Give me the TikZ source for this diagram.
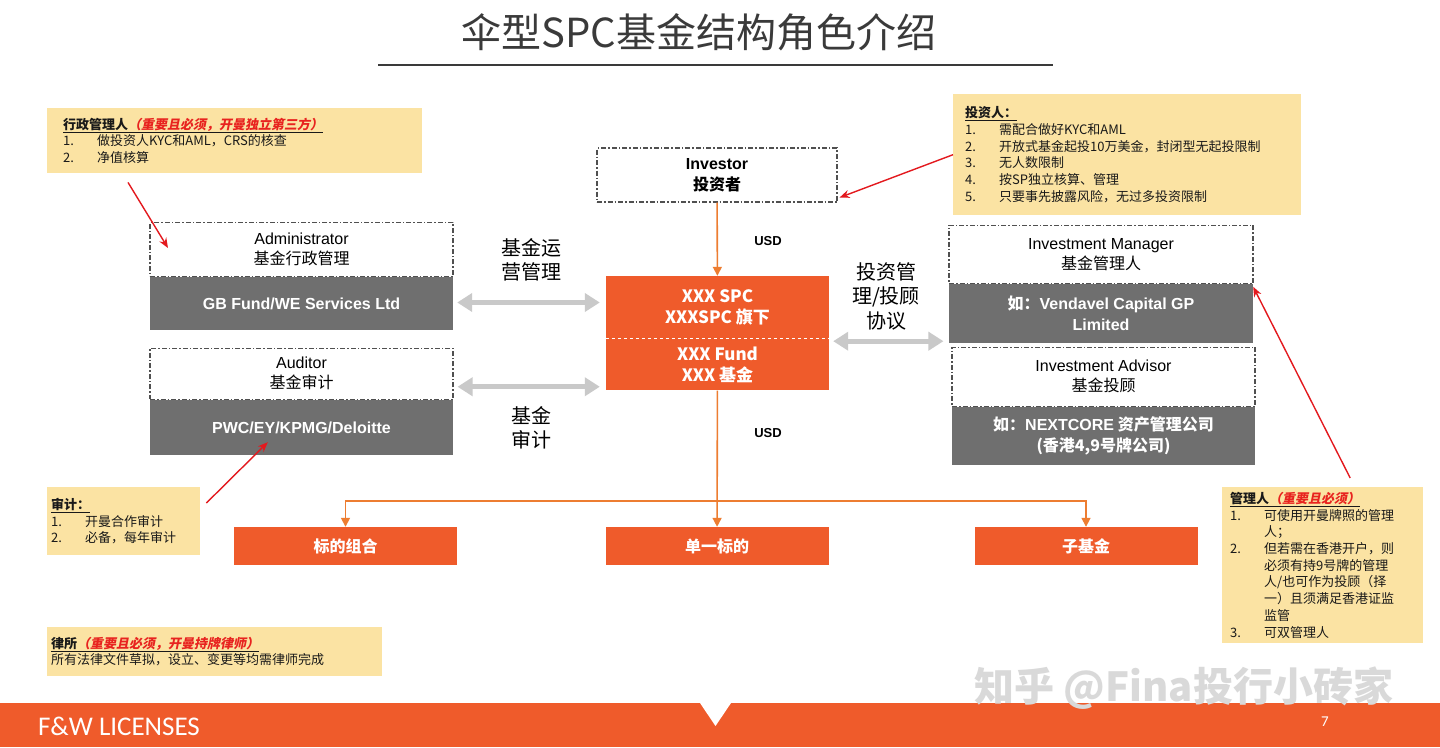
\documentclass[tikz,border=0pt]{standalone}
\usepackage{fontspec}
\setmainfont{Noto Sans CJK SC}
\newfontfamily\cjkit{Noto Sans CJK SC}[FakeSlant=0.2]
\newfontfamily\arial{Liberation Sans}
\newfontfamily\carlito{Carlito}
\usetikzlibrary{arrows.meta,calc,positioning}

\definecolor{noteyellow}{HTML}{FBE3A3}
\definecolor{notered}{HTML}{E8231F}
\definecolor{firmgray}{HTML}{6F6F6F}
\definecolor{dashgray}{HTML}{505050}
\definecolor{spcorange}{HTML}{EF5B2B}
\definecolor{flowor}{HTML}{ED7D31}
\definecolor{linkgray}{HTML}{C9C9C9}
\definecolor{calloutred}{HTML}{E3191E}
\definecolor{titlegray}{HTML}{3A3A3A}

\newcommand{\itm}[2]{\makebox[34pt][l]{#1}#2}

\begin{document}
\begin{tikzpicture}[x=1pt,y=-1pt,
    note/.style={fill=noteyellow, anchor=north west, align=left, text=black!90,
      font=\fontsize{13}{16.7}\selectfont},
    rolebox/.style={draw=dashgray, line width=1.1pt,
      dash pattern=on 5pt off 2pt on 1.5pt off 2pt,
      minimum width=303pt, align=center, font=\fontsize{16}{20}\selectfont},
    firmbox/.style={fill=firmgray, text=white, minimum width=303pt, align=center,
      font=\bfseries\fontsize{16}{21}\selectfont},
    fundbox/.style={fill=spcorange, text=white, minimum width=223pt, align=center,
      font=\bfseries\fontsize{17}{21}\selectfont},
    pickbox/.style={fill=spcorange, text=white, minimum width=223pt, minimum height=38pt,
      font=\bfseries\fontsize{16}{20}\selectfont},
    linklabel/.style={align=center, font=\fontsize{20}{24.5}\selectfont},
    usd/.style={font=\arial\bfseries\fontsize{13}{15}\selectfont},
    flow/.style={draw=flowor, line width=1.6pt, -{Triangle[length=9pt,width=9pt]}},
    link/.style={draw=linkgray, line width=5pt,
      {Triangle[length=15pt,width=18pt]}-{Triangle[length=15pt,width=18pt]}},
    callout/.style={draw=calloutred, line width=1.4pt, -{Stealth[length=10pt,width=8pt]}}]

  \fill[white] (0,0) rectangle (1440,747);
  \useasboundingbox (0,0) rectangle (1440,747);

  % Заголовок
  \node[font=\fontsize{40}{48}\selectfont, text=titlegray] (title) at (699,32) {伞型SPC基金结构角色介绍};
  \draw[titlegray, line width=1.5pt] (378,65) -- (1053,65);

  % ліва колонка
  \node[firmbox, minimum height=53pt] (adminfirm) at (301.5,303.5) {\arial GB Fund/WE Services Ltd};
  \node[rolebox, minimum height=54pt, above=0pt of adminfirm] (admin) {{\arial Administrator}\\基金行政管理};
  \node[firmbox, minimum height=55pt] (auditfirm) at (301.5,427.5) {\arial PWC/EY/KPMG/Deloitte};
  \node[rolebox, minimum height=51pt, above=0pt of auditfirm] (auditor) {{\arial Auditor}\\基金审计};

  % центр
  \node[rolebox, minimum width=240pt, minimum height=54pt, font=\bfseries\fontsize{16}{21}\selectfont]
    (investor) at (717,175) {{\arial Investor}\\投资者};
  \node[fundbox, minimum height=62pt] (spc) at (717.5,307) {XXX SPC\\XXXSPC 旗下};
  \node[fundbox, minimum height=52pt, below=0pt of spc] (fund) {XXX Fund\\XXX 基金};
  \draw[white, dashed, line width=1.2pt] (spc.south west) -- (spc.south east);

  % права колонка
  \node[firmbox, minimum width=304pt, minimum height=59pt] (imfirm) at (1101,313.5)
    {如：{\arial Vendavel Capital GP}\\{\arial Limited}};
  \node[rolebox, minimum width=304pt, minimum height=58pt, above=0pt of imfirm] (manager)
    {{\arial Investment Manager}\\基金管理人};
  \node[firmbox, minimum height=58pt] (iafirm) at (1103.5,436)
    {如：{\arial NEXTCORE} 资产管理公司\\(香港4,9号牌公司)};
  \node[rolebox, minimum height=59pt, above=0pt of iafirm] (advisor)
    {{\arial Investment Advisor}\\基金投顾};

  % низ
  \node[pickbox] (basket) at (345.5,546) {标的组合};
  \node[pickbox] (single) at (717,546) {单一标的};
  \node[pickbox] (subfund) at (1086,546) {子基金};

  \node[usd] (usd1) at (768,241) {USD};
  \node[usd] (usd2) at (768,433) {USD};

  \draw[flow] (investor) -- (spc);
  \draw[flow] (fund) -- (single);
  \coordinate (split) at (717,501);
  \draw[flow] (split) -| (basket);
  \draw[flow] (split) -| (subfund);

  % двосторонні стрілки
  \draw[link] ($(adminfirm.east)+(4,-1)$) -- ($(adminfirm.east -| spc.west)+(-6,-1)$);
  \draw[link] ($(auditor.east)+(4,13)$) -- ($(auditor.east -| fund.west)+(-6,13)$);
  \draw[link] ($(fund.north east)+(4,3)$) -- ($(fund.north east -| manager.west)+(-5,3)$);
  \node[linklabel] (opslabel) at (531,260) {基金运\\营管理};
  \node[linklabel] (auditlabel) at (531,428) {基金\\审计};
  \node[linklabel] (mgmtlabel) at (886,296) {投资管\\理/投顾\\协议};

  % примітки
  \node[note, inner xsep=16pt, text width=343pt, minimum height=65pt] (admnote) at (47,108)
    {\underline{\textbf{行政管理人}\textcolor{notered}{\cjkit\bfseries （重要且必须，开曼独立第三方）}}\\
     \itm{1.}{做投资人KYC和AML，CRS的核查}\\
     \itm{2.}{净值核算}};
  \node[note, inner xsep=12pt, text width=324pt, minimum height=121pt] (invnote) at (953,94)
    {\underline{\textbf{投资人：}}\\
     \itm{1.}{需配合做好KYC和AML}\\
     \itm{2.}{开放式基金起投10万美金，封闭型无起投限制}\\
     \itm{3.}{无人数限制}\\
     \itm{4.}{按SP独立核算、管理}\\
     \itm{5.}{只要事先披露风险，无过多投资限制}};
  \node[note, inner xsep=4pt, text width=145pt, minimum height=68pt] (audnote) at (47,487)
    {\underline{\textbf{审计：}}\\
     \itm{1.}{开曼合作审计}\\
     \itm{2.}{必备，每年审计}};
  \node[note, inner xsep=8pt, text width=185pt, minimum height=156pt] (mgrnote) at (1222,487)
    {\underline{\textbf{管理人}\textcolor{notered}{\cjkit\bfseries （重要且必须）}}\\
     \itm{1.}{可使用开曼牌照的管理}\\
     \itm{}{人；}\\
     \itm{2.}{但若需在香港开户，则}\\
     \itm{}{必须有持9号牌的管理}\\
     \itm{}{人/也可作为投顾（择}\\
     \itm{}{一）且须满足香港证监}\\
     \itm{}{监管}\\
     \itm{3.}{可双管理人}};
  \node[note, inner xsep=4pt, text width=327pt, minimum height=49pt] (lawnote) at (47,627)
    {\underline{\textbf{律所}\textcolor{notered}{\cjkit\bfseries （重要且必须，开曼持牌律师）}}\\
     所有法律文件草拟，设立、变更等均需律师完成};

  % червоні стрілки
  \coordinate (admtip) at (168,248);
  \coordinate (invtip) at ($(investor.south east)+(2,-5)$);
  \coordinate (audtip) at ($(auditfirm.south west)+(118,-13)$);
  \coordinate (mgrtip) at ($(imfirm.north east)+(0,3)$);
  \draw[callout] ($(admnote.south west)+(81,9)$) -- (admtip);
  \draw[callout] (invnote.west) -- (invtip);
  \draw[callout] ($(audnote.north east)+(6,16)$) -- (audtip);
  \draw[callout] ($(mgrnote.north)+(27.5,-9)$) -- (mgrtip);

  % нижня смуга
  \fill[spcorange] (0,703) rectangle (1440,747);
  \fill[white] (700,703) -- (731,703) -- (715.5,726) -- cycle;
  \node[text=white, font=\carlito\fontsize{27}{30}\selectfont] (brand) at (119,726) {F\&W LICENSES};
  \node[text=white, font=\carlito\fontsize{15}{18}\selectfont] (page) at (1325,722) {7};
  \node[text=gray!30, font=\bfseries\fontsize{40}{46}\selectfont] (mark) at (1184,688) {知乎 @Fina投行小砖家};
\end{tikzpicture}
\end{document}
